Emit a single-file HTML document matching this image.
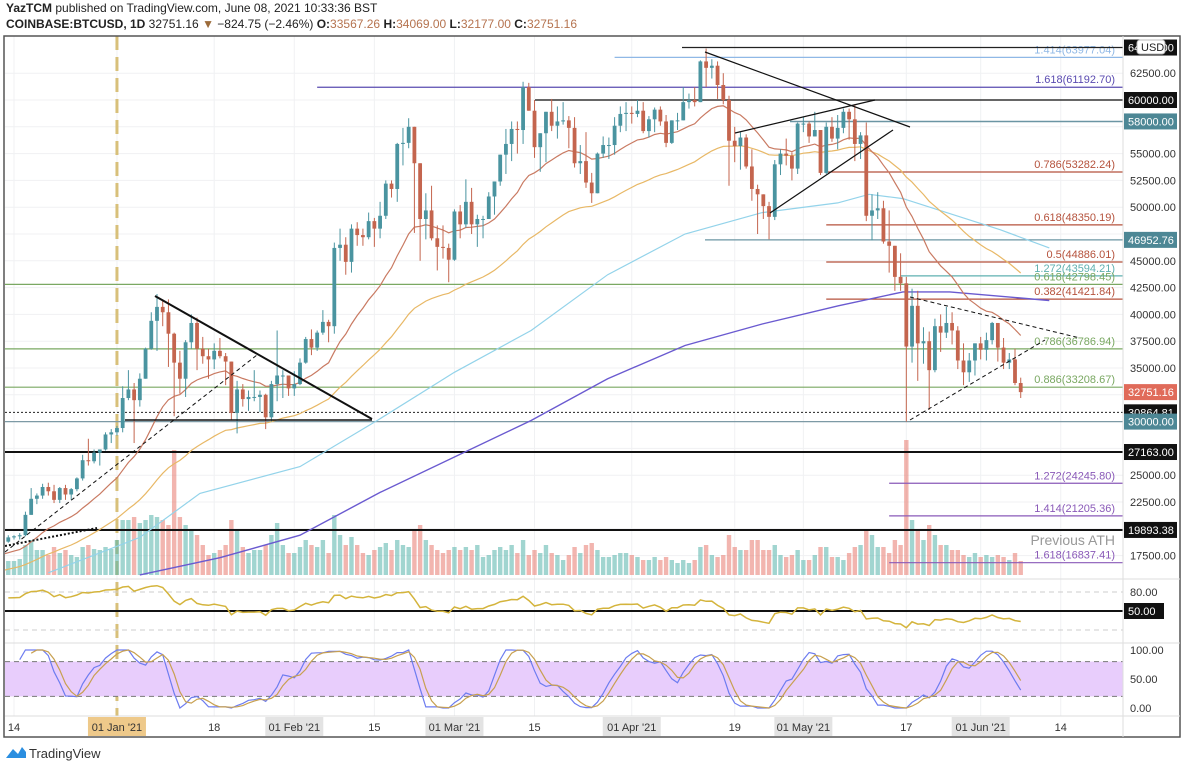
<!DOCTYPE html>
<html><head><meta charset="utf-8"><style>
body{margin:0;background:#fff;font-family:"Liberation Sans",sans-serif;}
#wrap{position:relative;width:1186px;height:768px;overflow:hidden;}
.hdr{position:absolute;left:6px;font-size:12px;color:#222;white-space:nowrap;}
</style></head><body>
<div id="wrap">
<div class="hdr" style="top:1px"><b>YazTCM</b> published on TradingView.com, June 08, 2021 10:33:36 BST</div>
<div class="hdr" style="top:17px"><b>COINBASE:BTCUSD, 1D</b> 32751.16 <span style="color:#9c6b3a">▼</span> −824.75 (−2.46%) <b>O:</b><span style="color:#b5734f">33567.26</span> <b>H:</b><span style="color:#b5734f">34069.00</span> <b>L:</b><span style="color:#b5734f">32177.00</span> <b>C:</b><span style="color:#b5734f">32751.16</span></div>
<svg id="chart" width="1186" height="768" style="position:absolute;left:0;top:0"></svg>
</div>
<script>
// ---- data (prices in thousands USD), daily from 12 Dec 2020 ----
const closes=[18.8,19.2,19.3,19.4,21.3,22.8,23.1,23.9,23.5,22.7,23.8,23.2,23.7,24.7,26.4,26.3,27.1,27.4,28.8,29.0,
29.4,32.2,33.0,32.0,34.0,36.8,39.4,40.7,40.2,38.2,35.5,34.0,37.4,39.2,36.8,36.1,35.8,36.6,36.1,35.6,30.8,33.0,32.1,32.3,32.3,32.5,30.4,33.5,34.3,34.3,33.1,
33.5,35.5,37.7,36.9,38.3,39.3,38.9,46.2,46.5,44.9,48.0,47.4,47.2,48.7,48.0,49.2,52.2,51.7,55.9,56.0,57.5,54.1,48.9,49.7,47.1,46.3,46.2,45.1,
49.6,48.4,50.5,48.4,48.9,48.9,51.0,52.4,54.9,55.9,57.3,57.2,61.2,59.0,55.6,56.9,58.9,57.6,58.0,58.1,57.4,54.1,54.3,52.3,51.3,55.0,55.8,55.8,57.6,58.7,58.8,
58.7,59.0,57.1,58.2,59.1,58.0,56.0,58.1,58.1,59.8,60.0,59.8,63.6,63.0,63.2,61.4,60.0,56.2,55.7,56.5,53.8,51.7,51.2,50.1,49.1,54.0,55.0,54.8,53.6,57.8,
57.8,56.6,57.2,53.2,57.5,56.4,57.4,58.9,58.2,55.9,56.7,49.2,49.7,49.9,46.8,46.4,43.5,42.9,37.0,40.8,37.3,37.5,34.8,38.9,38.3,39.2,38.5,35.7,34.6,35.7,37.3,
36.7,37.6,39.2,36.9,35.5,35.8,33.6,32.75];
const highs=[18.9,19.4,19.4,19.6,21.6,23.8,23.3,24.2,24.3,24.1,23.9,24.1,23.8,24.8,26.9,28.4,27.4,27.4,29.0,29.3,
29.6,33.3,34.8,33.6,34.5,36.9,40.2,41.9,41.4,41.4,38.3,36.6,37.6,40.0,39.7,37.9,36.8,37.3,37.8,36.4,35.6,33.8,33.5,32.9,34.8,32.9,32.6,33.8,38.5,34.8,34.3,
34.7,35.9,37.9,38.6,38.5,40.4,39.5,46.7,48.0,47.2,48.4,48.6,48.0,49.5,49.0,50.5,52.5,52.5,56.0,57.4,58.3,57.5,54.1,51.3,52.0,48.3,48.3,46.6,
49.8,50.2,52.6,51.8,49.3,49.2,51.4,52.4,54.9,57.3,58.0,58.0,61.7,61.6,60.0,56.9,58.9,60.1,59.4,59.8,58.5,58.4,55.8,57.0,53.2,55.1,56.6,56.5,58.4,59.4,59.8,
59.4,60.0,59.8,58.5,59.3,59.4,58.6,58.1,58.8,61.2,60.6,61.2,63.7,64.8,63.8,63.6,62.5,60.4,57.5,57.0,56.8,55.4,52.1,51.2,50.5,54.4,55.4,56.4,55.1,57.9,
58.4,58.0,58.9,57.2,57.9,58.4,58.6,59.2,59.2,59.6,57.0,57.9,51.2,51.4,50.6,49.7,46.4,45.7,43.5,42.4,42.2,38.8,38.4,39.6,40.0,40.7,40.2,38.9,37.3,36.4,37.3,
37.9,38.3,39.3,39.2,37.8,36.4,36.8,34.1];
const lows=[18.0,18.7,19.0,19.0,19.3,21.3,22.3,22.8,23.1,22.4,22.4,22.7,22.7,23.5,24.5,25.9,26.1,25.9,27.3,28.0,
28.7,29.0,32.0,28.0,31.4,34.0,36.7,36.6,38.9,35.1,30.5,32.6,32.3,36.8,34.8,35.4,34.0,34.9,35.9,33.4,30.1,28.9,31.4,31.0,31.9,30.9,29.3,30.0,31.9,32.2,32.4,
32.4,33.4,35.4,36.2,36.6,38.1,37.4,38.2,45.0,43.7,43.9,46.4,46.4,47.0,46.3,47.1,48.9,50.9,50.5,53.9,55.5,47.6,45.0,47.0,46.9,44.1,45.2,43.0,
45.0,47.1,48.1,47.5,46.3,47.1,48.9,49.3,52.0,53.1,54.3,55.0,55.9,59.0,54.6,53.3,54.2,57.1,56.4,57.7,55.5,53.7,53.1,51.8,50.4,51.3,54.6,54.5,54.9,57.0,57.1,
57.8,58.4,56.9,56.5,57.0,57.6,55.6,55.9,57.2,58.1,59.2,59.4,59.9,61.2,62.0,60.1,59.6,52.0,54.2,53.5,53.6,50.6,47.5,48.9,47.0,48.8,53.0,53.9,52.5,53.1,
57.0,56.0,56.6,53.0,53.1,56.1,55.4,56.9,56.3,54.3,54.5,48.7,46.9,48.9,46.6,43.9,42.2,42.2,30.0,35.5,33.8,35.4,31.1,34.6,36.5,37.8,37.2,34.9,33.4,33.7,34.3,
35.8,35.7,37.2,35.6,34.9,34.9,33.4,32.2];
const volumes=[12,14,14,16,30,35,25,25,20,28,22,25,20,18,28,30,26,25,28,26,
35,55,55,58,52,55,60,58,55,50,125,58,50,45,40,30,20,22,25,30,55,45,28,22,25,25,30,40,52,30,22,
22,28,35,30,28,35,22,60,40,30,38,30,22,20,25,28,32,25,35,30,28,45,50,35,30,25,22,25,
28,25,28,25,30,18,20,25,28,25,30,22,35,20,25,22,30,22,20,15,20,28,22,30,32,25,18,18,20,22,22,
20,18,15,15,18,15,18,15,12,15,12,15,28,30,20,18,20,40,28,25,25,35,35,25,25,30,20,18,20,25,
15,15,20,28,28,18,18,15,22,28,30,45,40,28,28,22,35,30,135,55,45,35,50,40,30,30,25,25,20,18,22,
18,20,18,20,18,15,22,14];
// moving averages (day index, price k)
const ma100Days=[8,24,34.5,52,65.5,79,92.4,105.8,119.3,132.8,146,151.5,157.4,174.4,183];
const ma100Vals=[15.9,19.2,23.3,25.8,30.1,34.6,38.5,43.7,47.5,49.5,50.4,51.2,50.8,47.9,46.2];
const ma200Days=[24,38,52,66,92.4,105.8,119.3,132.8,146.1,157.4,165.6,183];
const ma200Vals=[15.7,17.3,19.4,23.4,30.1,34.0,37.1,39.1,40.8,42.1,42.1,41.3];
// fib / level annotations
const fibVals=[63977.04,61192.70,53282.24,48350.19,44886.01,43594.21,42798.45,41421.84,36786.94,33208.67,24245.80,21205.36,16837.41];
const fibNames=['1.414','1.618','0.786','0.618','0.5','1.272','0.618','0.382','0.786','0.886','1.272','1.414','1.618'];
const fibColors=['#8fb8e6','#5a4bb0','#b5523c','#b5523c','#b5523c','#5fb0b0','#7aa862','#b5523c','#7aa862','#7aa862','#8a5ab8','#8a5ab8','#8a5ab8'];
const fibStartDay=[107,55,144,144,144,157,-2,144,-2,-2,155,155,155];
const axisTicks=[62500,55000,52500,50000,45000,42500,40000,37500,35000,25000,22500,17500];
const boxLevels=[64895,60000,58000,46952.76,32751.16,30864.81,30000,27163,19893.38];
const boxColors=['#111','#111','#4d8795','#4d8795','#e06b5a','#111','#4d8795','#111','#111'];
const timeLabels=['14',"01 Jan '21",'18',"01 Feb '21",'15',"01 Mar '21",'15',"01 Apr '21",'19',"01 May '21",'17',"01 Jun '21",'14'];
const timeDays=[0,18,35,49,63,77,91,108,126,138,156,169,183];

const svg=document.getElementById('chart');
const NS='http://www.w3.org/2000/svg';
function el(tag,attrs,parent){const e=document.createElementNS(NS,tag);for(const k in attrs)e.setAttribute(k,attrs[k]);(parent||svg).appendChild(e);return e;}
const X=i=>14+(i-2)*5.72;
const XD=d=>14+d*5.72;
const Y=p=>100+(60-p)/2.5*26.8;
const L=5,R=1123,T=36,B=716;

const defs=el('defs',{});const cp=el('clipPath',{id:'mainclip'},defs);el('rect',{x:L,y:T,width:R-L,height:578-T},cp);
const cp2=el('clipPath',{id:'rsiclip'},defs);el('rect',{x:L,y:579,width:R-L,height:64},cp2);

const grid=el('g',{stroke:'#f0f1f3','stroke-width':1});


timeDays.forEach(d=>el('line',{x1:XD(d),x2:XD(d),y1:T,y2:B},grid));
for(let p=17.5;p<=62.5;p+=2.5)el('line',{x1:L,x2:R,y1:Y(p),y2:Y(p)},grid);

const vm=el('line',{x1:XD(18),x2:XD(18),y1:T,y2:B,stroke:'#d8c07a','stroke-width':3,'stroke-dasharray':'14,7'});



const main=el('g',{'clip-path':'url(#mainclip)'});
const vg=el('g',{},main);


volumes.forEach((v,i)=>{const up=i==0||closes[i]>=closes[i-1];
 const b=el('rect',{x:X(i)-2.2,y:575-v,width:4.4,height:v,fill:up?'rgba(83,178,170,0.55)':'rgba(232,120,110,0.55)'},vg);
 
 });

function hline(p,x1,color,w,dash,name){const l=el('line',{x1:x1,x2:R,y1:Y(p/1000),y2:Y(p/1000),stroke:color,'stroke-width':w},main);if(dash)l.setAttribute('stroke-dasharray',dash);
 
 }
fibVals.forEach((v,k)=>{hline(v,Math.max(L,X(fibStartDay[k])),fibColors[k],1.2,null,'fib-level-line');
 const t=el('text',{x:1115,y:Y(v/1000)-4,'text-anchor':'end','font-size':11,fill:fibColors[k]},main);t.textContent=fibNames[k]+'('+v.toFixed(2)+')';
 
 });
hline(64895,682,'#222',1.2,null,'ath-line');
hline(60000,535,'#333',1.5,null,'level-60000');
hline(58000,790,'#6b95a3',1.5,null,'level-58000');
hline(46952.76,705,'#6b95a3',1.2,null,'level-46952');
hline(30864.81,L,'#222',1,'2,2','level-30864');
hline(30000,L,'#7d9aa5',1.2,null,'level-30000');
hline(27163,L,'#111',2,null,'level-27163');
hline(19893.38,L,'#111',2,null,'previous-ath-line');
const pa=el('text',{x:1115,y:545,'text-anchor':'end','font-size':14,fill:'#999'},main);pa.textContent='Previous ATH';



function poly(pts,color,w,name){const p=el('polyline',{points:pts.map(a=>a[0].toFixed(1)+','+a[1].toFixed(1)).join(' '),fill:'none',stroke:color,'stroke-width':w},main);
 
 }
poly(ma200Days.map((d,k)=>[X(d),Y(ma200Vals[k])]),'#6a5ad0',1.4,'ma-200-line');
poly(ma100Days.map((d,k)=>[X(d),Y(ma100Vals[k])]),'#93d3ea',1.2,'ma-100-line');
function ema(n,seed){let e=seed,out=[];const a=2/(n+1);closes.forEach(c=>{e=e+a*(c-e);out.push(e);});return out;}
poly(ema(50,16.0).map((v,i)=>[X(i),Y(v)]),'#e8b866',1.2,'ema-50-line');
poly(ema(20,17.5).map((v,i)=>[X(i),Y(v)]),'#c97a62',1.2,'ema-20-line');

const cg=el('g',{},main);


closes.forEach((c,i)=>{const o=i==0?18.0:closes[i-1];const up=c>=o;const col=up?'#4a94a0':'#c4654e';
 const hi=Math.max(highs[i]!==undefined?highs[i]:c,o,c),lo=Math.min(lows[i]!==undefined?lows[i]:c,o,c);
 const g=el('g',{},cg);
 
 
 el('line',{x1:X(i),x2:X(i),y1:Y(hi),y2:Y(lo),stroke:col,'stroke-width':1},g);
 const yt=Y(Math.max(o,c)),yb=Y(Math.min(o,c));
 el('rect',{x:X(i)-1.9,y:yt,width:3.8,height:Math.max(1,yb-yt),fill:col},g);});

const tl=[[155,296,372,419,'#111',2,null],[125,420,372,420,'#111',1.5,null],[5,552,257,355,'#111',1,'4,3'],[5,546,97,528,'#111',2,'2,2'],
[705,52,910,127,'#111',1.2,null],[735,133,875,100,'#111',1.2,null],[770,213,893,130,'#111',1.2,null],
[910,297,1080,338,'#111',1,'4,3'],[910,420,1045,340,'#111',1,'4,3']];
tl.forEach(t=>{const l=el('line',{x1:t[0],y1:t[1],x2:t[2],y2:t[3],stroke:t[4],'stroke-width':t[5]},main);if(t[6])l.setAttribute('stroke-dasharray',t[6]);
 
 });

// RSI (Wilder, warm-started) & Stoch RSI
const rsi=[];{let ag=0.45,al=0.2;for(let i=1;i<closes.length;i++){const ch=closes[i]-closes[i-1];const g=Math.max(ch,0),l=Math.max(-ch,0);
 ag=(ag*13+g)/14;al=(al*13+l)/14;rsi[i]=100-100/(1+ag/(al||1e-9));}}
const RY=v=>611-(v-50)*0.633, SY=v=>708-v*0.58;
el('line',{x1:L,x2:R,y1:RY(80),y2:RY(80),stroke:'#ccc','stroke-dasharray':'5,4'});
el('line',{x1:L,x2:R,y1:RY(20),y2:RY(20),stroke:'#ccc','stroke-dasharray':'5,4'});
const r50=el('line',{x1:L,x2:R,y1:611,y2:611,stroke:'#111','stroke-width':2});


const rp=[];rsi.forEach((v,i)=>{if(v!==undefined)rp.push(X(i).toFixed(1)+','+RY(v).toFixed(1));});
const rl=el('polyline',{points:rp.join(' '),fill:'none',stroke:'#d4b43c','stroke-width':1.5,'clip-path':'url(#rsiclip)'});


const band=el('rect',{x:L,y:SY(80),width:R-L,height:SY(20)-SY(80),fill:'#e8cdfc'});


el('line',{x1:L,x2:R,y1:SY(80),y2:SY(80),stroke:'#777','stroke-dasharray':'5,4'});
el('line',{x1:L,x2:R,y1:SY(20),y2:SY(20),stroke:'#777','stroke-dasharray':'5,4'});
const st=[];for(let i=1;i<closes.length;i++){let mn=1e9,mx=-1e9;for(let j=Math.max(1,i-13);j<=i;j++){mn=Math.min(mn,rsi[j]);mx=Math.max(mx,rsi[j]);}st[i]=mx>mn?(rsi[i]-mn)/(mx-mn)*100:50;}
function sma3(a){const o=[];for(let i=0;i<a.length;i++){if(a[i]!==undefined&&a[i-1]!==undefined&&a[i-2]!==undefined)o[i]=(a[i]+a[i-1]+a[i-2])/3;}return o;}
const K=sma3(st),D=sma3(K);
[[K,'#6d7cf0','stoch-k-line'],[D,'#c8a050','stoch-d-line']].forEach(([a,c,n])=>{const pts=[];a.forEach((v,i)=>{if(v!==undefined)pts.push(X(i).toFixed(1)+','+SY(v).toFixed(1));});
 const p=el('polyline',{points:pts.join(' '),fill:'none',stroke:c,'stroke-width':1.2});
 
 });

el('rect',{x:L-1,y:T,width:1180-L+1,height:737-T,fill:'none',stroke:'#555','stroke-width':1.5});
el('line',{x1:R,x2:R,y1:T,y2:737,stroke:'#ddd'});
el('line',{x1:L,x2:1180,y1:579,y2:579,stroke:'#ddd'});
el('line',{x1:L,x2:1180,y1:643,y2:643,stroke:'#ddd'});
el('line',{x1:L,x2:1180,y1:B,y2:B,stroke:'#ddd'});

const ax=el('g',{'font-size':11,fill:'#333'});


axisTicks.forEach(p=>{const t=el('text',{x:1130,y:Y(p/1000)+4},ax);t.textContent=p.toFixed(2);});
boxLevels.forEach((p,k)=>{const y=Y(p/1000);const b=el('rect',{x:1124,y:y-8,width:53,height:16,fill:boxColors[k]},ax);
 
 
 const t=el('text',{x:1128,y:y+4,fill:'#fff'},ax);t.textContent=p.toFixed(2);});
const usd=el('rect',{x:1137,y:40,width:28,height:14,rx:3,fill:'#fff',stroke:'#bbb'},ax);


const ut=el('text',{x:1141,y:51,fill:'#222'},ax);ut.textContent='USD';
[[RY(80),'80.00'],[SY(100),'100.00'],[SY(50),'50.00'],[SY(0),'0.00']].forEach(a=>{const t=el('text',{x:1130,y:a[0]+4},ax);t.textContent=a[1];});
el('rect',{x:1124,y:603,width:40,height:16,fill:'#111'},ax);
const r5=el('text',{x:1128,y:615,fill:'#fff'},ax);r5.textContent='50.00';

const tx=el('g',{'font-size':11,fill:'#333','text-anchor':'middle'});


timeLabels.forEach((s,k)=>{const x=XD(timeDays[k]);
 if(s.indexOf("'")>=0){const w=58;el('rect',{x:x-w/2,y:717,width:w,height:19,fill:k==1?'#eec98a':'#e3e3e3'},tx);}
 const t=el('text',{x:x,y:731},tx);t.textContent=s;});

const lg=el('g',{});


el('path',{d:'M6 758 L13 749 L18 754 L22 747 L26 752 L26 758 Z',fill:'#2a8ee0'},lg);
const lt=el('text',{x:29,y:758,'font-size':13,fill:'#333'},lg);lt.textContent='TradingView';
</script>
</body></html>
